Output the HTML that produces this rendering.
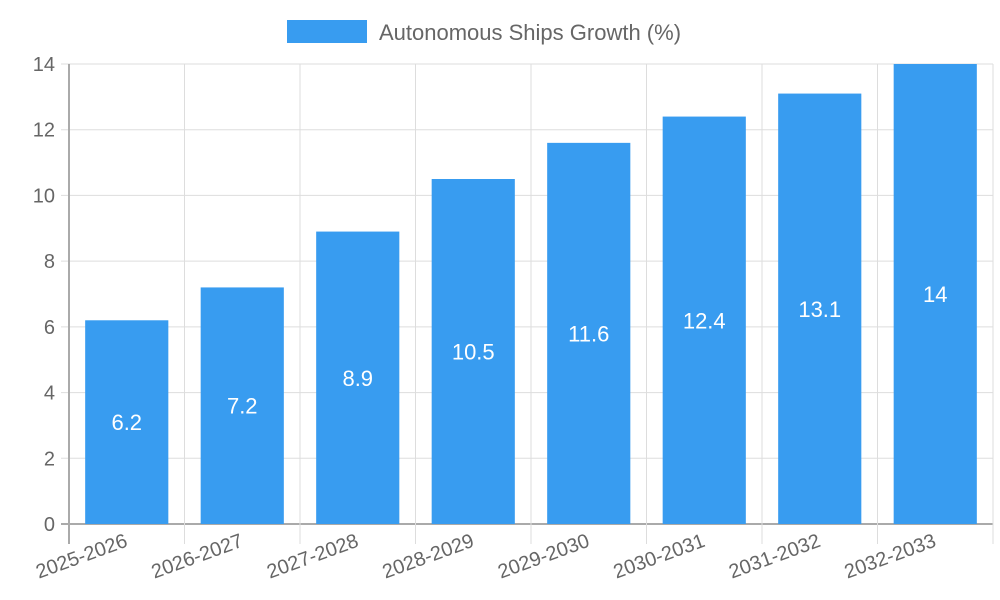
<!DOCTYPE html>
<html><head><meta charset="utf-8"><style>
body{margin:0;background:#fff;}
svg{display:block;font-family:"Liberation Sans",sans-serif;}
</style></head><body>
<svg id="chart" width="1000" height="600" viewBox="0 0 1000 600">
<g>
<rect x="287" y="20" width="80" height="23" fill="#389cf0"/>
<text x="379" y="40" font-size="22" fill="#666">Autonomous Ships Growth (%)</text>
</g>
<g id="grid"></g><g id="bars"></g><g id="labels"></g>
</svg>
<script>
const categories=["2025-2026","2026-2027","2027-2028","2028-2029","2029-2030","2030-2031","2031-2032","2032-2033"];
const values=[6.2,7.2,8.9,10.5,11.6,12.4,13.1,14];
const yTicks=[0,2,4,6,8,10,12,14];
const X0=69,X1=993,Y0=524,Y1=64,YMAX=14;
const cw=(X1-X0)/categories.length;
const y=v=>Y0-(v/YMAX)*(Y0-Y1);
const xc=i=>X0+cw*(i+0.5);
const NS="http://www.w3.org/2000/svg";
function mk(t,a,p){const e=document.createElementNS(NS,t);for(const k in a)e.setAttribute(k,a[k]);p.appendChild(e);return e;}
const grid=document.getElementById('grid'),bars=document.getElementById('bars'),labels=document.getElementById('labels');
yTicks.forEach(t=>{
 const l=mk('line',{x1:X0-8,x2:X1,y1:y(t),y2:y(t),stroke:t===0?'#aaa':'#ddd','stroke-width':t===0?2:1},grid);
 
 
 const tx=mk('text',{x:X0-14,y:y(t)+7,'text-anchor':'end','font-size':20,fill:'#666'},grid);
 tx.textContent=t;
 
 
});
for(let i=0;i<=categories.length;i++){
 const gx=X0+cw*i;
 const l=mk('line',{x1:gx,x2:gx,y1:Y1,y2:Y0+20,stroke:i===0?'#aaa':'#ddd','stroke-width':i===0?2:1},grid);
 
 
}
const bw=cw*0.72;
categories.forEach((c,i)=>{
 const v=values[i];
 const r=mk('rect',{x:xc(i)-bw/2,y:y(v),width:bw,height:Y0-y(v),fill:'#389cf0'},bars);
 
 
 const vt=mk('text',{x:xc(i),y:(y(v)+Y0)/2+8,'text-anchor':'middle','font-size':22,fill:'#fff'},labels);
 vt.textContent=v;
 
 
 const xt=mk('text',{x:xc(i)+2,y:546,'text-anchor':'end','font-size':20,fill:'#666',transform:`rotate(-20 ${xc(i)+2} 546)`},labels);
 xt.textContent=c;
 
 
});
</script>
</body></html>
